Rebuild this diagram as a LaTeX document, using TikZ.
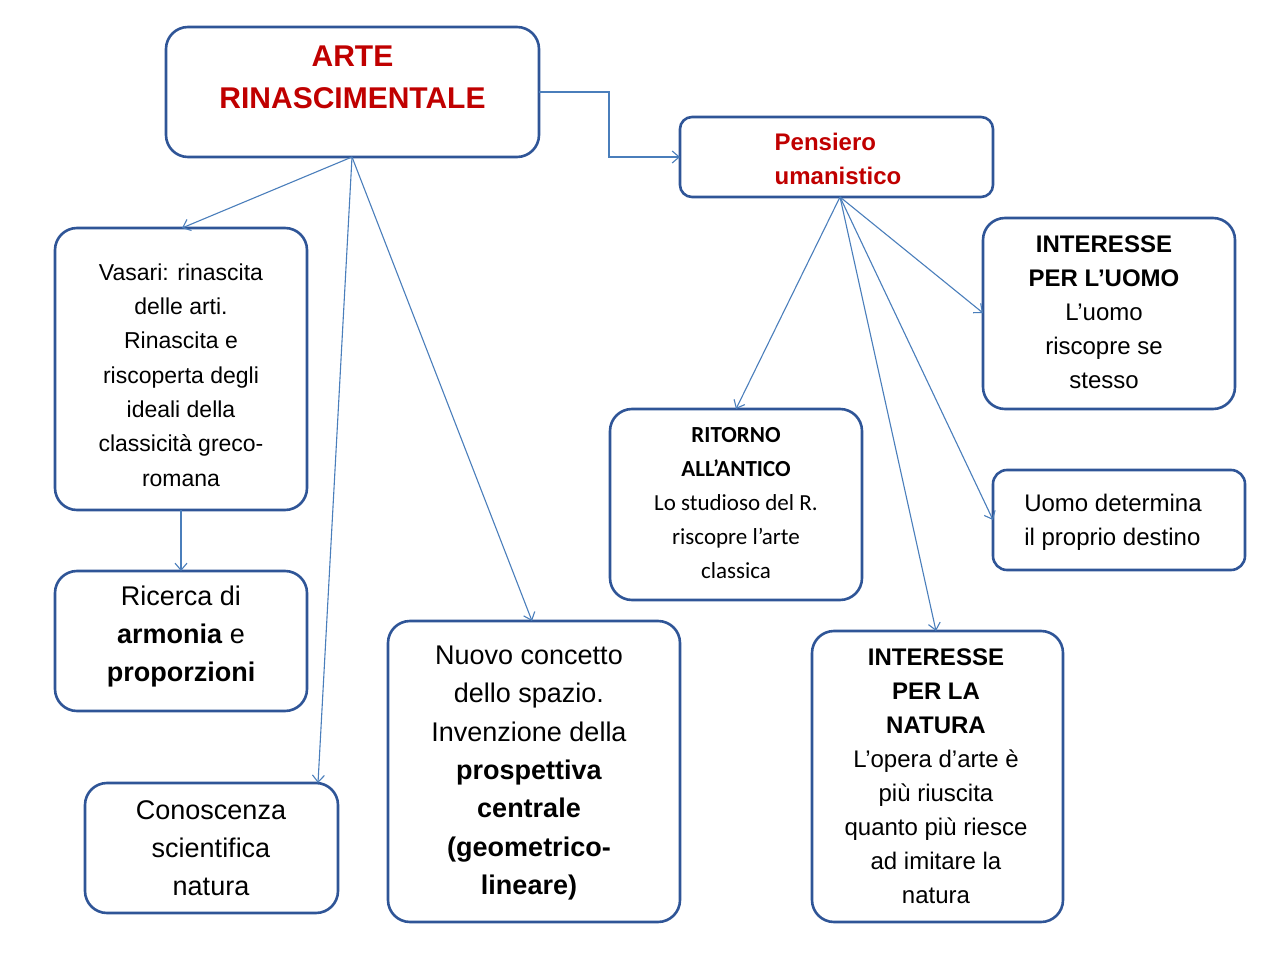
\documentclass[tikz,border=0pt]{standalone}
\usepackage{fontspec}
\setmainfont{Liberation Sans}
\newfontfamily\calib{Carlito}
\usetikzlibrary{arrows.meta}
\definecolor{bord}{HTML}{2F5597}
\definecolor{arr}{HTML}{4A7EBB}
\definecolor{redt}{HTML}{C00000}
\begin{document}
\begin{tikzpicture}[x=1pt,y=-1pt,
 box/.style={draw=bord,line width=2.6pt,rounded corners=22pt,fill=white},
 conn/.style={draw=arr,line width=1.1pt,-{Straight Barb[length=7pt,width=12pt]}},
 txt/.style={align=center,inner sep=0pt}]
\useasboundingbox (0,0) rectangle (1280,960);
\draw[box] (166,27) rectangle (539,157); \node[txt] (arte) at (352.5,92) {};
\node[txt,font=\fontsize{30}{42}\selectfont\bfseries,text=redt] at (352.5,77) {ARTE\\RINASCIMENTALE};
\draw[box,rounded corners=12pt] (680,117) rectangle (993,197); \node (pens) at (836,157) {};
\node[txt,font=\fontsize{24}{34}\selectfont\bfseries,text=redt,align=left] at (838,159) {Pensiero\\umanistico};
\draw[box] (55,228) rectangle (307,510); \node (vas) at (181,369) {};
\node[txt,font=\fontsize{23}{34.3}\selectfont] at (181,375) {Vasari: rinascita\\delle arti.\\Rinascita e\\riscoperta degli\\ideali della\\classicità greco-\\romana};
\draw[box] (55,571) rectangle (307,711); \node (ric) at (181,641) {};
\node[txt,font=\fontsize{27}{38}\selectfont] at (181,637) {Ricerca di\\\textbf{armonia} e\\\textbf{proporzioni}};
\draw[box] (85,783) rectangle (338,913); \node (con) at (211,848) {};
\node[txt,font=\fontsize{27}{38}\selectfont] at (211,848) {Conoscenza\\scientifica\\natura};
\draw[box] (388,621) rectangle (680,922); \node (nuo) at (534,771) {};
\node[txt,font=\fontsize{27}{38.3}\selectfont] at (529,773) {Nuovo concetto\\dello spazio.\\Invenzione della\\\textbf{prospettiva}\\\textbf{centrale}\\\textbf{(geometrico-}\\\textbf{lineare)}};
\draw[box] (610,409) rectangle (862,600); \node (rit) at (736,504) {};
\node[txt,font=\fontsize{23}{34}\calib] at (736,503) {\textbf{RITORNO}\\\textbf{ALL’ANTICO}\\Lo studioso del R.\\riscopre l’arte\\classica};
\draw[box] (983,218) rectangle (1235,409); \node (ium) at (1109,313) {};
\node[txt,font=\fontsize{24}{34}\selectfont] at (1104,312) {\textbf{INTERESSE}\\\textbf{PER L’UOMO}\\L’uomo\\riscopre se\\stesso};
\draw[box,rounded corners=14pt] (993,470) rectangle (1245,570); \node (udet) at (1119,520) {};
\node[txt,font=\fontsize{24}{34}\selectfont,align=left] at (1113,522) {Uomo determina\\il proprio destino};
\draw[box] (812,631) rectangle (1063,922); \node (nat) at (937,776) {};
\node[txt,font=\fontsize{24}{34}\selectfont] at (936,776) {\textbf{INTERESSE}\\\textbf{PER LA}\\\textbf{NATURA}\\L’opera d’arte è\\più riuscita\\quanto più riesce\\ad imitare la\\natura};
\coordinate (ab) at (352,157);
\coordinate (pb) at (840,197);
\draw[conn] (ab) -- (182,228);
\draw[conn] (ab) -- (318,783);
\draw[conn] (ab) -- (532,621);
\draw[conn] (539,92) -- (609,92) -- (609,157) -- (680,157);
\draw[conn] (181,510) -- (181,571);
\draw[conn] (pb) -- (736,409);
\draw[conn] (pb) -- (983,313);
\draw[conn] (pb) -- (993,520);
\draw[conn] (pb) -- (936,631);
\end{tikzpicture}
\end{document}
